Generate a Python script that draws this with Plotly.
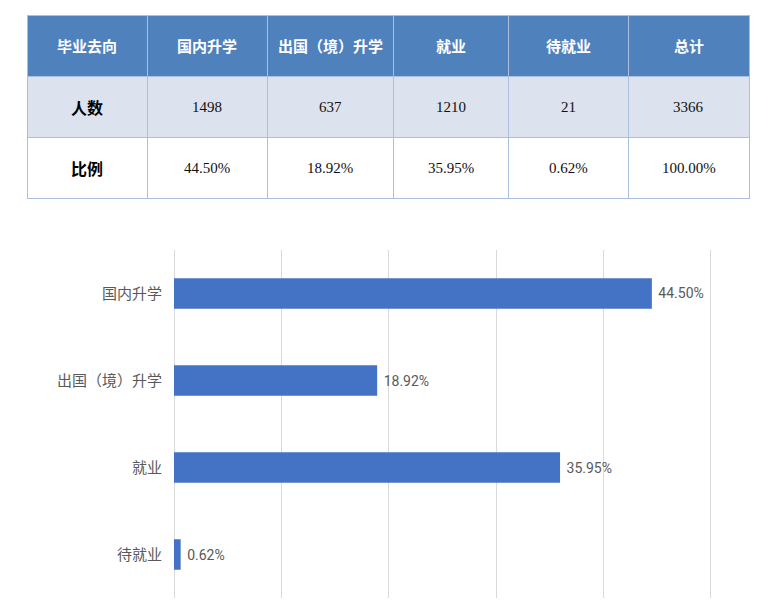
import plotly.graph_objects as go

# ---- data ----
table_header = ["毕业去向", "国内升学", "出国（境）升学", "就业", "待就业", "总计"]
row_labels = ["人数", "比例"]
counts = ["1498", "637", "1210", "21", "3366"]
ratios = ["44.50%", "18.92%", "35.95%", "0.62%", "100.00%"]

categories = ["国内升学", "出国（境）升学", "就业", "待就业"]
percent_values = [44.50, 18.92, 35.95, 0.62]
percent_labels = ["44.50%", "18.92%", "35.95%", "0.62%"]

W, H = 769, 612
CJK = "Noto Sans CJK SC"
SERIF = "Liberation Serif"

fig = go.Figure()

# ---- table (fills and borders by go.Table, text centred by annotations) ----
col_w = [120, 120, 126, 115, 120, 121]
tbl_left, tbl_top, row_h = 27, 15, 61.3
n_rows = 1 + len(row_labels)

body_cols = [row_labels] + [[c, r] for c, r in zip(counts, ratios)]
fig.add_trace(go.Table(
    domain=dict(x=[tbl_left / W, (tbl_left + sum(col_w)) / W],
                y=[1 - (tbl_top + n_rows * row_h + 1) / H, 1 - tbl_top / H]),
    columnwidth=col_w,
    header=dict(
        values=[""] * len(table_header),
        fill_color="#4F81BD",
        line=dict(color="#A9BFDD", width=1),
        height=row_h,
    ),
    cells=dict(
        values=[["", ""] for _ in body_cols],
        fill_color=[["#DCE3EF", "#FFFFFF"]],
        line=dict(color="#A9BFDD", width=1),
        height=row_h,
    ),
    hoverinfo="skip",
))

annotations = []
x0 = tbl_left
for ci, w in enumerate(col_w):
    cx = (x0 + w / 2) / W
    x0 += w
    # header
    annotations.append(dict(
        x=cx, y=1 - (tbl_top + row_h * 0.5) / H, xref="paper", yref="paper",
        text="<b>" + table_header[ci] + "</b>", showarrow=False,
        xanchor="center", yanchor="middle",
        font=dict(family=CJK, size=15, color="white"),
    ))
    for ri, val in enumerate(body_cols[ci]):
        cy = 1 - (tbl_top + row_h * (ri + 1.5)) / H
        if ci == 0:
            txt, fnt = "<b>" + val + "</b>", dict(family=CJK, size=16, color="#000000")
        else:
            txt, fnt = val, dict(family=SERIF, size=15, color="#111111")
        annotations.append(dict(
            x=cx, y=cy, xref="paper", yref="paper", text=txt, showarrow=False,
            xanchor="center", yanchor="middle", font=fnt,
        ))

# ---- bar chart ----
fig.add_trace(go.Bar(
    x=percent_values,
    y=categories,
    orientation="h",
    marker=dict(color="#4472C4", line=dict(width=0)),
    width=0.35,
    text=["\u00a0" + t for t in percent_labels],
    textposition="outside",
    textfont=dict(family="Roboto, " + CJK, size=14, color="#595959"),
    cliponaxis=False,
    hoverinfo="skip",
))

fig.update_layout(
    width=W, height=H,
    margin=dict(l=0, r=0, t=0, b=0),
    paper_bgcolor="white",
    plot_bgcolor="white",
    showlegend=False,
    annotations=annotations,
    xaxis=dict(
        domain=[174 / W, 712 / W],
        range=[0, 50.1],
        dtick=10,
        showgrid=True,
        gridcolor="#D9D9D9",
        gridwidth=1,
        zeroline=True,
        zerolinecolor="#D9D9D9",
        zerolinewidth=1,
        showticklabels=False,
        showline=False,
        fixedrange=True,
    ),
    yaxis=dict(
        domain=[1 - 598 / H, 1 - 250 / H],
        categoryorder="array",
        categoryarray=categories[::-1],
        ticks="outside",
        ticklen=8,
        tickcolor="rgba(0,0,0,0)",
        tickfont=dict(family=CJK, size=15, color="#595959"),
        showgrid=False,
        showline=False,
        zeroline=False,
        fixedrange=True,
    ),
)

fig.write_html("out.html")
